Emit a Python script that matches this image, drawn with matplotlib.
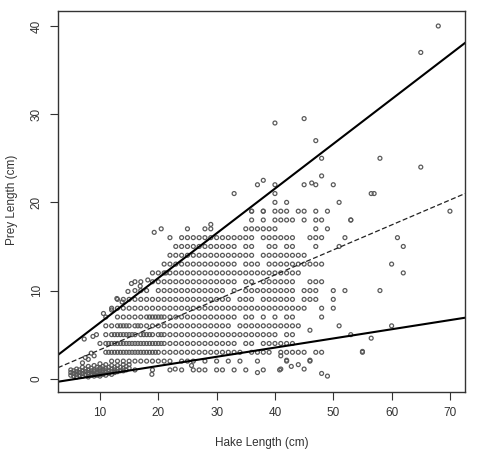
import numpy as np
import matplotlib
matplotlib.use('Agg')
import matplotlib.pyplot as plt

plt.rcParams['font.family'] = ['Liberation Sans', 'DejaVu Sans']

# prey length rows (cm) and hake lengths (cm) found on each row
row_prey = [1, 2, 3, 4, 5, 6, 7, 8, 9, 10, 11, 12, 13, 14, 15, 16, 17]
row_hake = [
    [16, 19, 22, 24, 26, 27, 28, 30, 31, 33, 35, 38, 40.8],
    [12, 13, 14, 15, 16, 17, 18, 19, 20, 21, 22, 24, 25, 26, 28, 30, 32, 34, 37, 42, 46],
    [11, 11.5, 12, 12.5, 13, 13.5, 14, 14.5, 15, 15.5, 16, 16.5, 17, 17.5, 18, 18.5, 19, 19.5,
     20, 21, 22, 23, 24, 25, 26, 27, 28, 29, 30, 31, 32, 33, 34, 36, 37, 38, 39, 41, 42, 43,
     44, 45, 47, 48, 55],
    [10, 11, 11.5, 12, 12.5, 13, 13.5, 14, 14.5, 15, 15.5, 16, 16.5, 17, 17.5, 18, 18.5, 19,
     19.5, 20, 20.5, 21, 22, 23, 24, 25, 26, 27, 28, 29, 30, 31, 32, 33, 35, 36, 38, 39, 40,
     41, 42, 43],
    [11, 12, 12.5, 13, 13.5, 14, 14.5, 15, 15.5, 16, 17, 17.5, 18, 18.5, 19, 20, 20.5, 21, 22,
     23, 24, 25, 26, 27, 28, 29, 30, 31, 32, 33, 34, 35, 36, 37, 38, 39, 40, 42, 43, 53],
    [11, 12, 13, 13.5, 14, 14.5, 15, 16, 16.5, 17, 18, 19, 20, 21, 22, 23, 24, 25, 26, 27, 28,
     29, 30, 31, 32, 34, 35, 36, 37, 38, 39, 40, 41, 42, 43, 44, 51, 60],
    [11, 13, 14, 15, 16, 17, 18, 18.5, 19, 19.5, 20, 20.5, 21, 22, 23, 24, 25, 26, 27, 28, 29,
     30, 31, 32, 33, 35, 36, 38, 40, 42, 43, 48],
    [12, 13, 14, 15, 16, 17, 18, 19, 20, 21, 22, 23, 24, 25, 26, 27, 28, 29, 30, 31, 32, 33,
     34, 35, 36, 37, 38, 39, 40, 41, 42, 43, 44, 45, 48, 50],
    [13, 14, 15, 16, 17, 18, 19, 20, 21, 22, 23, 24, 25, 26, 27, 28, 29, 30, 31, 32, 34, 35,
     36, 38, 39, 40, 41, 42, 43, 45, 46, 47, 50],
    [16, 17, 18, 20, 21, 22, 23, 24, 25, 26, 27, 28, 29, 30, 31, 33, 35, 36, 37, 38, 39, 40,
     41, 42, 43, 45, 46, 47, 50, 52, 58],
    [17, 19, 20, 21, 22, 23, 24, 25, 26, 27, 28, 29, 30, 31, 32, 33, 35, 36, 38, 39, 40, 41,
     42, 43, 46, 47, 48],
    [19, 20, 21, 22, 23, 24, 25, 26, 27, 28, 29, 30, 31, 32, 33, 34, 35, 36, 37, 38, 39, 40,
     41, 42, 43, 44, 62],
    [21, 22, 23, 24, 25, 26, 27, 28, 29, 30, 31, 32, 33, 35, 36, 37, 39, 40, 41, 42, 43, 44,
     45, 46, 47, 48, 60],
    [22, 23, 24, 25, 26, 27, 28, 29, 30, 31, 32, 33, 34, 35, 36, 38, 39, 40, 41, 42, 43, 44, 45],
    [23, 24, 25, 26, 27, 28, 29, 30, 31, 32, 33, 35, 36, 39, 40, 42, 43, 47, 51, 62],
    [22, 24, 25, 26, 27, 28, 29, 30, 31, 32, 33, 34, 35, 36, 38, 39, 40, 41, 42, 43, 46, 47,
     48, 52, 61],
    [20.5, 25, 28, 29, 35, 36, 37, 38, 39, 40, 47, 49],
]

# small hake eating small prey (bottom-left cluster) and scattered extra points
small_hake = [5, 5, 5, 5.5, 5.5, 5.5, 6, 6, 6, 6, 6.5, 6.5, 6.5, 7, 7, 7, 7, 7.5, 7.5, 7.5,
              8, 8, 8, 8, 8, 8.5, 8.5, 8.5, 8.5, 9, 9, 9, 9, 9, 9.5, 9.5, 9.5, 9.5,
              10, 10, 10, 10, 10, 10, 10.5, 10.5, 10.5, 10.5, 11, 11, 11, 11, 11,
              11.5, 11.5, 11.5, 12, 12, 12, 12, 12.5, 12.5, 12.5, 13, 13, 13, 13.5, 13.5,
              14, 14, 14, 14.5, 14.5, 15, 15, 7, 8, 9, 7.5, 8.5]
small_prey = [0.4, 0.7, 1.0, 0.3, 0.6, 0.9, 0.2, 0.5, 0.8, 1.1, 0.4, 0.7, 1.0, 0.3, 0.6, 0.9,
              1.3, 0.5, 0.8, 1.1, 0.2, 0.5, 0.7, 1.0, 1.4, 0.4, 0.6, 0.9, 1.2, 0.3, 0.5, 0.8,
              1.0, 1.5, 0.4, 0.7, 1.0, 1.3, 0.3, 0.5, 0.8, 1.0, 1.2, 1.7, 0.5, 0.8, 1.1, 1.4,
              0.4, 0.7, 0.9, 1.2, 1.6, 0.6, 0.9, 1.3, 0.5, 0.8, 1.1, 1.5, 0.7, 1.0, 1.3,
              0.8, 1.1, 1.5, 0.9, 1.3, 0.9, 1.2, 1.6, 1.0, 1.4, 1.2, 1.6, 1.8, 2.2, 2.6, 2.4, 2.9]

extra_hake = [7.3, 8.8, 9.4, 10.6, 12, 12.9, 13.8, 14.8, 15.4, 16, 16.9, 18.2, 19.3, 21.3,
              18.9, 22.9, 25.7, 29, 33, 38, 36, 37, 38, 40, 40, 40, 42, 45, 45, 46.3, 47, 47,
              48, 48, 50, 51, 53, 56.5, 57, 58, 65, 65, 68, 70, 40, 41, 42, 44, 45, 42.8,
              37, 48, 49, 41, 46, 46, 56.5, 55, 36, 38, 40, 41, 42, 44, 45, 47, 49,
              36, 38, 40, 41, 42, 43, 45, 47, 48, 53]
extra_prey = [4.5, 4.8, 5.0, 7.4, 7.8, 9.1, 8.7, 9.9, 10.8, 11.0, 10.5, 11.2, 16.6, 12.0,
              0.5, 1.1, 1.5, 17.5, 21, 22.5, 19, 22, 19, 22, 21, 20, 20, 22, 29.5, 22.2, 22, 27,
              25, 23, 22, 20, 18, 21, 21, 25, 24, 37, 40, 19, 29, 1.1, 2.1, 1.6, 1.1, 1.4,
              0.7, 0.6, 0.3, 2.6, 2.1, 5.5, 4.6, 3.1, 19, 19, 19, 19, 19, 19, 19, 19, 19,
              18, 18, 18, 18, 18, 18, 18, 18, 18, 18]

# fitted lines: intercept, slope
upper_fit = (1.28, 0.507)
mid_fit = (0.46, 0.283)
lower_fit = (-0.63, 0.104)

hake = np.concatenate([np.array(h, float) for h in row_hake] + [small_hake, extra_hake])
prey = np.concatenate([np.full(len(h), p, float) for h, p in zip(row_hake, row_prey)]
                      + [small_prey, extra_prey])

fig = plt.figure(figsize=(4.79, 4.53), dpi=100)
ax = fig.add_axes([0.121, 0.1353, 0.850, 0.8404])

ax.scatter(hake, prey, s=8, facecolors='none', edgecolors='#5a5a5a', linewidths=0.9)

ax.axline((0, upper_fit[0]), slope=upper_fit[1], color='black', lw=1.5)
ax.axline((0, mid_fit[0]), slope=mid_fit[1], color='#222222', lw=0.9, ls=(0, (4, 2)))
ax.axline((0, lower_fit[0]), slope=lower_fit[1], color='black', lw=1.5)

ax.set_xlim(2.8, 72.6)
ax.set_ylim(-1.47, 41.7)
ax.set_xticks([10, 20, 30, 40, 50, 60, 70])
ax.set_yticks([0, 10, 20, 30, 40])
ax.tick_params(direction='out', length=6, width=0.8, labelsize=8.5, pad=5, colors='#333333')
for lab in ax.get_yticklabels():
    lab.set_rotation(90)
    lab.set_va('center')
for s in ax.spines.values():
    s.set_linewidth(1.0)
    s.set_color('#333333')

fig.text(0.547, 0.022, 'Hake Length (cm)', fontsize=8.5, color='#333333',
         ha='center', va='center')
fig.text(0.025, 0.558, 'Prey Length (cm)', fontsize=8.5, color='#333333',
         ha='center', va='center', rotation=90)

fig.savefig('out.png', dpi=100)
